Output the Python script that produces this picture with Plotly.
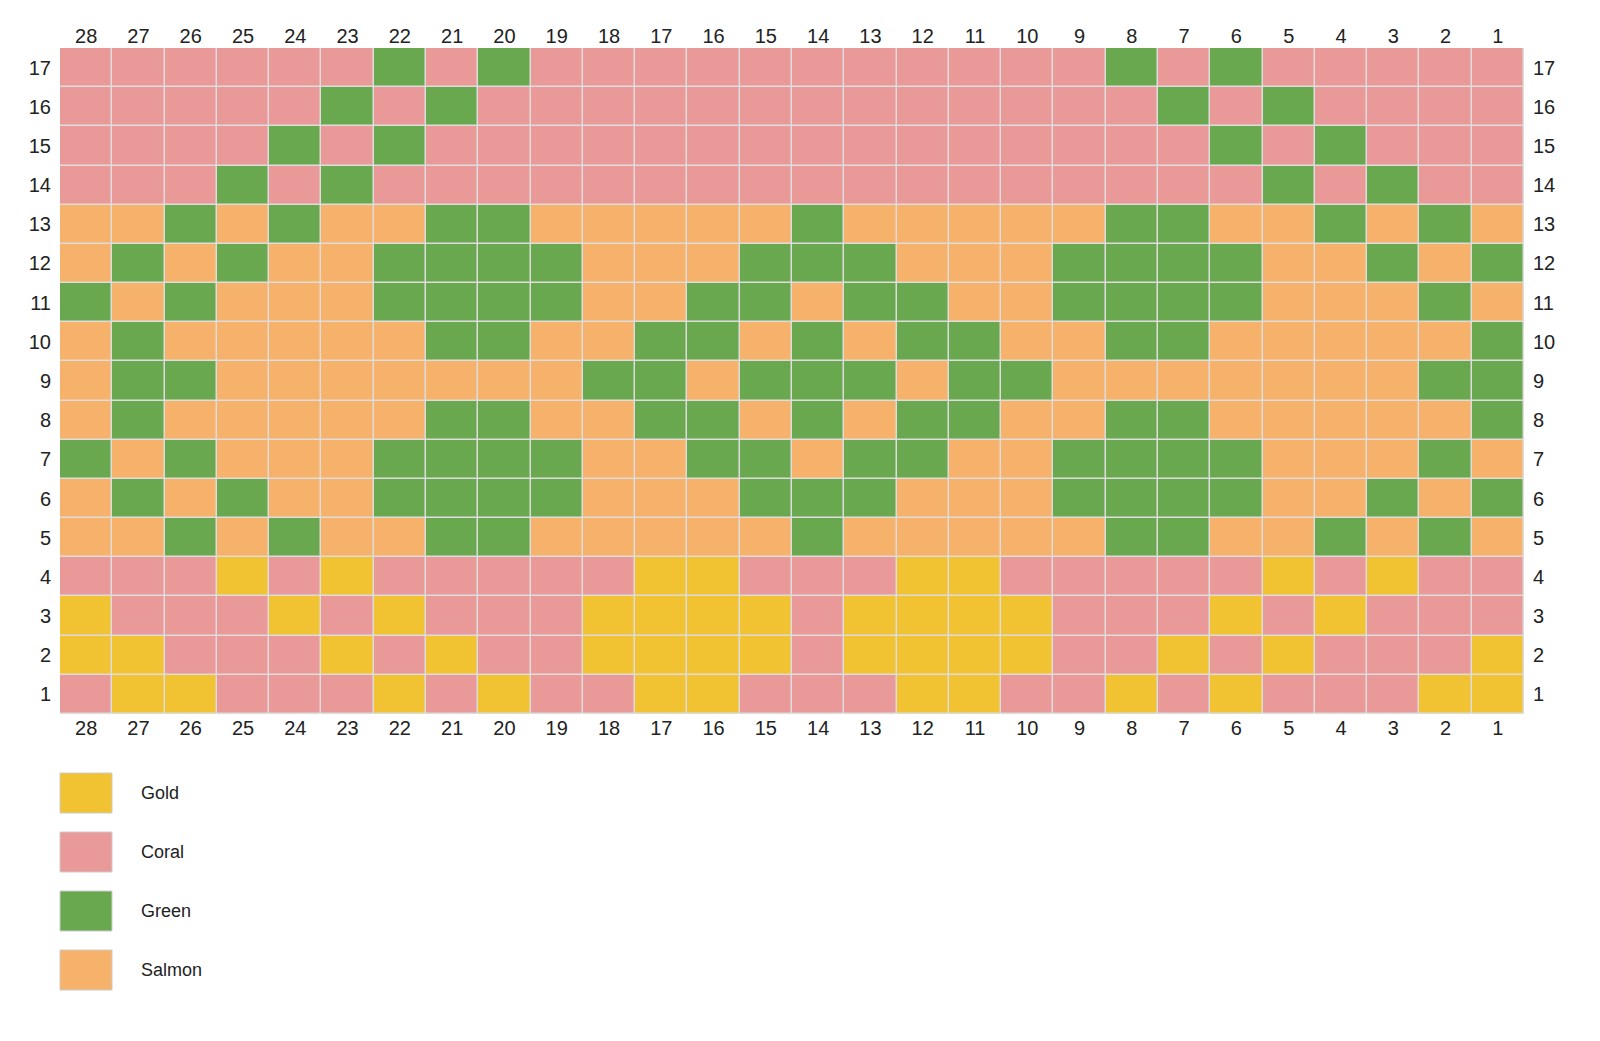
import plotly.graph_objects as go

cols = [str(c) for c in range(28, 0, -1)]
rows = list(range(1, 18))
names = ["Gold", "Coral", "Green", "Salmon"]
colors = ["#F1C232", "#EA9999", "#6AA84F", "#F6B26B"]

# per row: base colour index and list of columns with the accent colour
row_base = {17: 1, 16: 1, 15: 1, 14: 1, 13: 3, 12: 3, 11: 3, 10: 3, 9: 3, 8: 3, 7: 3, 6: 3, 5: 3, 4: 1, 3: 1, 2: 1, 1: 1}
row_accent = {17: 2, 16: 2, 15: 2, 14: 2, 13: 2, 12: 2, 11: 2, 10: 2, 9: 2, 8: 2, 7: 2, 6: 2, 5: 2, 4: 0, 3: 0, 2: 0, 1: 0}
accent_cols = {
    17: [22, 20, 8, 6],
    16: [23, 21, 7, 5],
    15: [24, 22, 6, 4],
    14: [25, 23, 5, 3],
    13: [26, 24, 21, 20, 14, 8, 7, 4, 2],
    12: [27, 25, 22, 21, 20, 19, 15, 14, 13, 9, 8, 7, 6, 3, 1],
    11: [28, 26, 22, 21, 20, 19, 16, 15, 13, 12, 9, 8, 7, 6, 2],
    10: [27, 21, 20, 17, 16, 14, 12, 11, 8, 7, 1],
    9: [27, 26, 18, 17, 15, 14, 13, 11, 10, 2, 1],
    8: [27, 21, 20, 17, 16, 14, 12, 11, 8, 7, 1],
    7: [28, 26, 22, 21, 20, 19, 16, 15, 13, 12, 9, 8, 7, 6, 2],
    6: [27, 25, 22, 21, 20, 19, 15, 14, 13, 9, 8, 7, 6, 3, 1],
    5: [26, 24, 21, 20, 14, 8, 7, 4, 2],
    4: [25, 23, 17, 16, 12, 11, 5, 3],
    3: [28, 24, 22, 18, 17, 16, 15, 13, 12, 11, 10, 6, 4],
    2: [28, 27, 23, 21, 18, 17, 16, 15, 13, 12, 11, 10, 7, 5, 1],
    1: [27, 26, 22, 20, 17, 16, 12, 11, 8, 6, 2, 1],
}

z = []
for r in rows:
    z.append([row_accent[r] if int(c) in accent_cols[r] else row_base[r] for c in cols])

cs = []
for i, c in enumerate(colors):
    cs += [[i / 4, c], [(i + 1) / 4, c]]

fig = go.Figure(go.Heatmap(z=z, x=cols, y=rows, colorscale=cs, zmin=-0.5, zmax=3.5,
                           showscale=False, xgap=1.5, ygap=1.5, hoverinfo="skip"))
fig.add_trace(go.Scatter(x=cols, y=[1] * len(cols), xaxis="x2", mode="markers", opacity=0, showlegend=False, hoverinfo="skip"))
fig.add_trace(go.Scatter(x=[cols[0]] * len(rows), y=rows, yaxis="y2", mode="markers", opacity=0, showlegend=False, hoverinfo="skip"))

tf = dict(family="Liberation Sans, Arial", size=20, color="#222")
xr = [-0.5, len(cols) - 0.5]
fig.update_layout(
    width=1600, height=1041, margin=dict(l=52, r=84, t=40, b=335),
    plot_bgcolor="#dddddd", paper_bgcolor="white", showlegend=False,
    xaxis=dict(type="category", categoryorder="array", categoryarray=cols, range=xr, tickfont=tf, showgrid=False, ticks="", zeroline=False, automargin=False),
    xaxis2=dict(type="category", categoryorder="array", categoryarray=cols, range=xr, overlaying="x", side="top", tickfont=tf, showgrid=False, ticks="", automargin=False),
    yaxis=dict(tickmode="array", tickvals=rows, ticktext=[str(r) for r in rows], range=[0.5, 17.5], tickfont=tf, showgrid=False, zeroline=False, ticks="", ticklabelstandoff=8, automargin=False),
    yaxis2=dict(tickmode="array", tickvals=rows, ticktext=[str(r) for r in rows], range=[0.5, 17.5], overlaying="y", side="right", tickfont=tf, showgrid=False, zeroline=False, ticks="", ticklabelstandoff=8, automargin=False),
)

W, H, L, T = 1464, 666, 52, 40
def px(x): return (x - L) / W
def py(y): return (T + H - y) / H
for i, (n, c) in enumerate(zip(names, colors)):
    top = 765 + i * 59
    fig.add_shape(type="rect", xref="paper", yref="paper", x0=px(52), x1=px(104), y0=py(top), y1=py(top + 40),
                  fillcolor=c, line=dict(color="#cccccc", width=1))
    fig.add_annotation(xref="paper", yref="paper", x=px(131), y=py(top + 20), text=n, showarrow=False,
                       xanchor="left", yanchor="middle", font=dict(family="Liberation Sans, Arial", size=18, color="#222"))

fig.write_html("out.html")
